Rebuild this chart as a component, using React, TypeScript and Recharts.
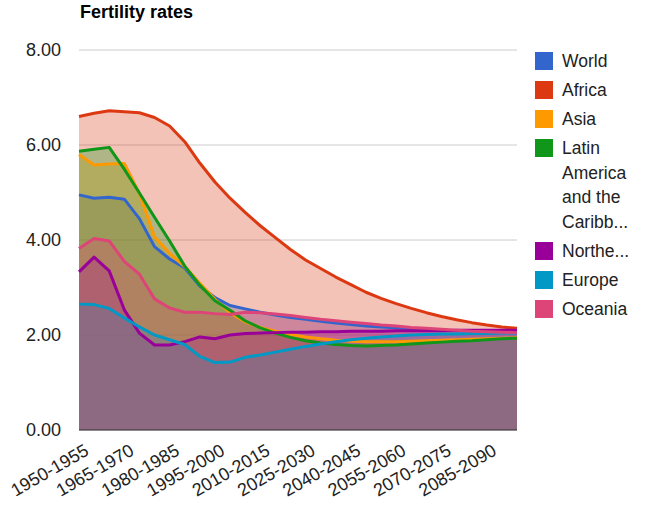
import { Area, CartesianGrid, ComposedChart, Legend, Line, XAxis, YAxis } from "recharts";

const periods = [
  "1950-1955", "1955-1960", "1960-1965", "1965-1970", "1970-1975", "1975-1980",
  "1980-1985", "1985-1990", "1990-1995", "1995-2000", "2000-2005", "2005-2010",
  "2010-2015", "2015-2020", "2020-2025", "2025-2030", "2030-2035", "2035-2040",
  "2040-2045", "2045-2050", "2050-2055", "2055-2060", "2060-2065", "2065-2070",
  "2070-2075", "2075-2080", "2080-2085", "2085-2090", "2090-2095", "2095-2100",
];

const world = [4.95, 4.88, 4.90, 4.86, 4.45, 3.86, 3.60, 3.41, 3.03, 2.79, 2.62, 2.55, 2.48, 2.42, 2.37, 2.33, 2.29, 2.25, 2.22, 2.19, 2.17, 2.15, 2.13, 2.11, 2.10, 2.09, 2.08, 2.07, 2.07, 2.06];
const africa = [6.60, 6.67, 6.72, 6.70, 6.68, 6.58, 6.40, 6.07, 5.62, 5.22, 4.88, 4.58, 4.30, 4.05, 3.80, 3.58, 3.40, 3.22, 3.06, 2.90, 2.77, 2.66, 2.56, 2.47, 2.39, 2.32, 2.26, 2.21, 2.17, 2.14];
const asia = [5.80, 5.58, 5.60, 5.61, 4.98, 4.07, 3.72, 3.44, 3.09, 2.75, 2.47, 2.28, 2.16, 2.08, 2.01, 1.96, 1.92, 1.89, 1.87, 1.86, 1.86, 1.86, 1.87, 1.88, 1.89, 1.90, 1.91, 1.92, 1.93, 1.94];
const latinAmerica = [5.87, 5.91, 5.95, 5.49, 4.99, 4.48, 3.98, 3.45, 3.05, 2.72, 2.52, 2.30, 2.15, 2.04, 1.95, 1.88, 1.83, 1.80, 1.78, 1.77, 1.78, 1.79, 1.81, 1.83, 1.85, 1.87, 1.88, 1.90, 1.92, 1.93];
const northernAmerica = [3.33, 3.64, 3.35, 2.53, 2.04, 1.79, 1.79, 1.86, 1.96, 1.92, 2.00, 2.03, 2.04, 2.05, 2.06, 2.06, 2.07, 2.07, 2.08, 2.08, 2.08, 2.09, 2.09, 2.09, 2.09, 2.10, 2.10, 2.10, 2.10, 2.10];
const europe = [2.65, 2.64, 2.56, 2.36, 2.17, 2.00, 1.90, 1.80, 1.55, 1.42, 1.43, 1.53, 1.58, 1.64, 1.70, 1.76, 1.81, 1.86, 1.90, 1.93, 1.96, 1.98, 2.00, 2.01, 2.02, 2.02, 2.03, 2.03, 2.04, 2.04];
const oceania = [3.82, 4.03, 3.98, 3.55, 3.28, 2.76, 2.57, 2.48, 2.48, 2.45, 2.43, 2.48, 2.47, 2.44, 2.41, 2.37, 2.33, 2.30, 2.27, 2.24, 2.21, 2.19, 2.16, 2.14, 2.12, 2.10, 2.08, 2.07, 2.06, 2.05];

const seriesNames = ["World", "Africa", "Asia", "Latin America and the Caribbean", "Northern America", "Europe", "Oceania"];
const seriesValues = [world, africa, asia, latinAmerica, northernAmerica, europe, oceania];
const legendLabels = [["World"], ["Africa"], ["Asia"], ["Latin", "America", "and the", "Caribb..."], ["Northe..."], ["Europe"], ["Oceania"]];
const colors = ["#3366cc", "#dc3912", "#ff9900", "#109618", "#990099", "#0099c6", "#dd4477"];
const yTicks = [0, 2, 4, 6, 8];

const data = periods.map((period, i) => {
  const row: Record<string, string | number> = { period };
  seriesNames.forEach((name, s) => {
    row[name] = seriesValues[s][i];
  });
  return row;
});

const FONT = "Arial, 'Liberation Sans', sans-serif";

function SlantTick({ x, y, payload }: any) {
  const tx = x + 11;
  const ty = y + 24;
  return (
    <text
      x={tx}
      y={ty}
      textAnchor="end"
      transform={`rotate(-30 ${tx} ${ty})`}
      fontSize={18}
      fontFamily={FONT}
      fill="#222"
    >
      {payload.value}
    </text>
  );
}

function SideLegend() {
  return (
    <div style={{ fontFamily: FONT, fontSize: 17.5, color: "#222" }}>
      {seriesNames.map((name, i) => (
        <div key={name} style={{ position: "relative", paddingLeft: 27, marginBottom: 4.5, lineHeight: "24.5px" }}>
          <span
            style={{
              position: "absolute",
              left: 0,
              top: 3,
              width: 18,
              height: 18,
              background: colors[i],
            }}
          />
          {legendLabels[i].map((line) => (
            <div key={line}>{line}</div>
          ))}
        </div>
      ))}
    </div>
  );
}

export default function App() {
  return (
    <div style={{ position: "absolute", left: 0, top: 0, width: 646, height: 505, background: "#fff" }}>
      <div
        style={{
          position: "absolute",
          left: 80,
          top: 3,
          fontFamily: FONT,
          fontSize: 18,
          fontWeight: "bold",
          lineHeight: "18px",
          color: "#000",
        }}
      >
        Fertility rates
      </div>
      <ComposedChart
        width={646}
        height={505}
        data={data}
        margin={{ top: 50, right: 129, bottom: 0, left: 9 }}
      >
        <CartesianGrid vertical={false} stroke="#cccccc" />
        <XAxis
          dataKey="period"
          scale="point"
          interval={2}
          height={75}
          tickLine={false}
          tickSize={0}
          tickMargin={0}
          axisLine={{ stroke: "#333333" }}
          tick={<SlantTick />}
        />
        <YAxis
          width={70}
          domain={[0, 8]}
          ticks={yTicks}
          tickFormatter={(v: number) => v.toFixed(2)}
          axisLine={false}
          tickLine={false}
          tickSize={0}
          tickMargin={18}
          tick={{ fontSize: 18, fontFamily: FONT, fill: "#222" }}
        />
        {seriesNames.map((name, i) => (
          <Area
            key={`area-${name}`}
            type="linear"
            dataKey={name}
            stroke="none"
            fill={colors[i]}
            fillOpacity={0.3}
            isAnimationActive={false}
            legendType="none"
          />
        ))}
        {seriesNames.map((name, i) => (
          <Line
            key={`line-${name}`}
            type="linear"
            dataKey={name}
            stroke={colors[i]}
            strokeWidth={3}
            strokeLinejoin="round"
            dot={false}
            activeDot={false}
            isAnimationActive={false}
            legendType="none"
          />
        ))}
        <Legend
          layout="vertical"
          align="center"
          verticalAlign="middle"
          content={() => <SideLegend />}
          wrapperStyle={{ left: 535, top: 49, width: 111 }}
        />
      </ComposedChart>
    </div>
  );
}
